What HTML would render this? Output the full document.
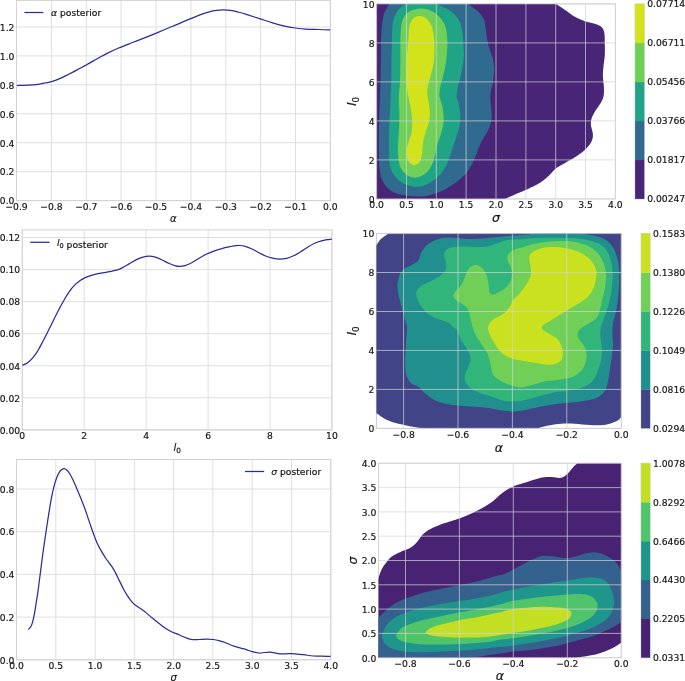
<!DOCTYPE html>
<html lang="en"><head><meta charset="utf-8"><title>Posterior plots</title>
<style>html,body{margin:0;padding:0;background:#fff}svg{display:block}text{font-family:"DejaVu Sans", "Liberation Sans", sans-serif;fill:#151515;stroke:#151515;stroke-width:0.18px}.t{font-size:9.2px}.i{font-style:italic}</style></head><body>
<svg width="685" height="681" viewBox="0 0 685 681">
<rect width="685" height="681" fill="#fff"/>
<g stroke="#dfdfdf" stroke-width="1.0" stroke-opacity="1.0" fill="none"><line x1="16.5" y1="0.4" x2="16.5" y2="200.6"/><line x1="51.4" y1="0.4" x2="51.4" y2="200.6"/><line x1="86.3" y1="0.4" x2="86.3" y2="200.6"/><line x1="121.1" y1="0.4" x2="121.1" y2="200.6"/><line x1="156" y1="0.4" x2="156" y2="200.6"/><line x1="190.9" y1="0.4" x2="190.9" y2="200.6"/><line x1="225.8" y1="0.4" x2="225.8" y2="200.6"/><line x1="260.6" y1="0.4" x2="260.6" y2="200.6"/><line x1="295.5" y1="0.4" x2="295.5" y2="200.6"/><line x1="330.4" y1="0.4" x2="330.4" y2="200.6"/><line x1="16.5" y1="200.6" x2="330.4" y2="200.6"/><line x1="16.5" y1="171.7" x2="330.4" y2="171.7"/><line x1="16.5" y1="142.7" x2="330.4" y2="142.7"/><line x1="16.5" y1="113.8" x2="330.4" y2="113.8"/><line x1="16.5" y1="84.8" x2="330.4" y2="84.8"/><line x1="16.5" y1="55.9" x2="330.4" y2="55.9"/><line x1="16.5" y1="27" x2="330.4" y2="27"/></g>
<rect x="16.5" y="0.4" width="313.9" height="200.2" fill="none" stroke="#d2d2d2" stroke-width="1"/>
<clipPath id="c1"><rect x="16.5" y="0.4" width="313.9" height="200.2"/></clipPath>
<path d="M16.5,85.5C18.3,85.4 23.9,85.3 27.5,85.1C31.1,84.9 35.1,84.6 38,84.3C40.9,84 42.8,83.5 45,83C47.2,82.5 49.1,82.3 51.5,81.6C53.9,80.9 56.4,79.9 59.1,78.8C61.8,77.7 64.9,76.2 67.8,74.8C70.7,73.3 73.5,71.8 76.6,70.1C79.7,68.4 83.1,66.7 86.6,64.8C90.1,62.9 94,60.5 97.6,58.5C101.2,56.5 104.6,54.6 108.1,52.9C111.6,51.1 114.9,49.6 118.6,48C122.2,46.4 126.8,44.7 130,43.5C133.2,42.3 133.1,42.3 137.5,40.6C141.9,38.9 150.5,35.5 156.3,33.1C162.2,30.7 167,28.7 172.6,26.3C178.2,23.9 185.4,20.8 190.1,18.9C194.8,16.9 197.4,15.8 200.6,14.6C203.8,13.4 206.7,12.5 209.3,11.8C211.9,11.1 214,10.7 216.4,10.4C218.8,10.1 221.2,9.9 223.6,9.9C225.9,9.9 228.2,10.1 230.5,10.4C232.8,10.7 234.9,11.2 237.5,11.9C240.1,12.6 242.5,13.2 246.3,14.4C250.1,15.6 255.9,17.5 260.3,18.9C264.7,20.3 268.5,21.6 272.6,22.8C276.7,24 281,25.2 284.8,26.1C288.6,27 291.8,27.5 295.3,28C298.8,28.5 302,28.9 305.8,29.1C309.6,29.4 314,29.4 318.1,29.5C322.2,29.6 328.3,29.9 330.4,30" fill="none" stroke="#2b2ba0" stroke-width="1.25" stroke-linejoin="round" clip-path="url(#c1)"/>
<text class="t" x="16.5" y="210.1" text-anchor="middle">−0.9</text><text class="t" x="51.4" y="210.1" text-anchor="middle">−0.8</text><text class="t" x="86.3" y="210.1" text-anchor="middle">−0.7</text><text class="t" x="121.1" y="210.1" text-anchor="middle">−0.6</text><text class="t" x="156" y="210.1" text-anchor="middle">−0.5</text><text class="t" x="190.9" y="210.1" text-anchor="middle">−0.4</text><text class="t" x="225.8" y="210.1" text-anchor="middle">−0.3</text><text class="t" x="260.6" y="210.1" text-anchor="middle">−0.2</text><text class="t" x="295.5" y="210.1" text-anchor="middle">−0.1</text><text class="t" x="330.4" y="210.1" text-anchor="middle">0.0</text><text class="t" x="14.4" y="204.3" text-anchor="end">0.0</text><text class="t" x="14.4" y="175.4" text-anchor="end">0.2</text><text class="t" x="14.4" y="146.5" text-anchor="end">0.4</text><text class="t" x="14.4" y="117.5" text-anchor="end">0.6</text><text class="t" x="14.4" y="88.6" text-anchor="end">0.8</text><text class="t" x="14.4" y="59.7" text-anchor="end">1.0</text><text class="t" x="14.4" y="30.7" text-anchor="end">1.2</text>
<line x1="24.4" y1="12.5" x2="43.4" y2="12.5" stroke="#2b2ba0" stroke-width="1.25"/>
<text x="51" y="15.8" style="font-size:9.2px"><tspan class="i">α</tspan> posterior</text>
<text x="173.4" y="221.5" text-anchor="middle" style="font-size:10.05px"><tspan class="i">α</tspan></text>
<g stroke="#dfdfdf" stroke-width="1.0" stroke-opacity="1.0" fill="none"><line x1="22.3" y1="229.9" x2="22.3" y2="429.9"/><line x1="84.2" y1="229.9" x2="84.2" y2="429.9"/><line x1="146.1" y1="229.9" x2="146.1" y2="429.9"/><line x1="208.1" y1="229.9" x2="208.1" y2="429.9"/><line x1="270" y1="229.9" x2="270" y2="429.9"/><line x1="331.9" y1="229.9" x2="331.9" y2="429.9"/><line x1="22.3" y1="429.9" x2="331.9" y2="429.9"/><line x1="22.3" y1="397.8" x2="331.9" y2="397.8"/><line x1="22.3" y1="365.8" x2="331.9" y2="365.8"/><line x1="22.3" y1="333.7" x2="331.9" y2="333.7"/><line x1="22.3" y1="301.6" x2="331.9" y2="301.6"/><line x1="22.3" y1="269.6" x2="331.9" y2="269.6"/><line x1="22.3" y1="237.5" x2="331.9" y2="237.5"/></g>
<rect x="22.3" y="229.9" width="309.6" height="200" fill="none" stroke="#d2d2d2" stroke-width="1"/>
<clipPath id="c2"><rect x="22.3" y="229.9" width="309.6" height="200"/></clipPath>
<path d="M22.3,365.4C23.1,365 25.6,364.3 27.3,363.1C29,361.9 30.8,360.2 32.5,358.2C34.2,356.1 36,353.6 37.8,350.8C39.5,348 41.2,344.6 43,341.2C44.8,337.8 46.5,334.2 48.3,330.7C50,327.2 51.8,323.7 53.5,320.2C55.2,316.7 57,313.1 58.8,309.7C60.6,306.3 62.3,303 64.1,300C65.8,297 67.5,294.1 69.3,291.6C71,289.1 72.8,286.9 74.6,285.1C76.3,283.3 78,282.1 79.8,280.8C81.5,279.6 83,278.5 85.1,277.6C87.1,276.7 89.5,275.9 92.1,275.2C94.7,274.5 97.9,273.8 100.8,273.2C103.7,272.6 107,272.2 109.6,271.7C112.2,271.2 114.4,270.8 116.5,270.2C118.6,269.6 119.9,268.9 122,267.9C124.1,266.8 126.7,265.2 129,263.9C131.3,262.6 133.7,261 136,259.9C138.3,258.8 140.8,257.7 143,257.1C145.2,256.5 147.1,256.2 149.2,256.2C151.2,256.2 153.1,256.5 155.3,257.1C157.5,257.7 160,258.9 162.3,260C164.6,261.1 167.1,262.5 169.3,263.5C171.5,264.5 173.7,265.3 175.4,265.8C177.2,266.3 178.2,266.3 179.8,266.3C181.4,266.3 183.1,266.2 185.1,265.6C187.1,265 189.8,263.7 192.1,262.5C194.4,261.3 196.8,259.7 199.1,258.3C201.4,256.9 203.8,255.5 206.1,254.3C208.4,253.1 210.5,252.2 213.1,251.3C215.7,250.4 219.3,249.3 221.9,248.6C224.5,247.8 226.9,247.3 228.9,246.8C230.9,246.3 232.3,246 234,245.8C235.7,245.6 237.4,245.4 239.3,245.5C241.2,245.6 243.4,245.8 245.4,246.4C247.4,247 249.3,247.8 251.5,248.8C253.7,249.8 256.1,251.3 258.5,252.5C260.9,253.7 263.2,255.1 265.6,256C268,256.9 270.3,257.6 272.6,258.1C274.9,258.6 277.3,259 279.6,259C281.9,259 284.3,258.8 286.6,258.3C288.9,257.8 291.3,256.9 293.6,255.8C295.9,254.7 298.3,253.2 300.6,251.8C302.9,250.4 305.3,248.6 307.6,247.2C309.9,245.8 312.3,244.3 314.6,243.2C316.9,242.1 319.6,241.4 321.6,240.8C323.7,240.2 325.2,240 326.9,239.7C328.6,239.4 331.1,239.3 331.9,239.2" fill="none" stroke="#2b2ba0" stroke-width="1.25" stroke-linejoin="round" clip-path="url(#c2)"/>
<text class="t" x="22.3" y="439.4" text-anchor="middle">0</text><text class="t" x="84.2" y="439.4" text-anchor="middle">2</text><text class="t" x="146.1" y="439.4" text-anchor="middle">4</text><text class="t" x="208.1" y="439.4" text-anchor="middle">6</text><text class="t" x="270" y="439.4" text-anchor="middle">8</text><text class="t" x="331.9" y="439.4" text-anchor="middle">10</text><text class="t" x="20.2" y="433.6" text-anchor="end">0.00</text><text class="t" x="20.2" y="401.6" text-anchor="end">0.02</text><text class="t" x="20.2" y="369.5" text-anchor="end">0.04</text><text class="t" x="20.2" y="337.4" text-anchor="end">0.06</text><text class="t" x="20.2" y="305.4" text-anchor="end">0.08</text><text class="t" x="20.2" y="273.3" text-anchor="end">0.10</text><text class="t" x="20.2" y="241.2" text-anchor="end">0.12</text>
<line x1="30.2" y1="242.3" x2="49.6" y2="242.3" stroke="#2b2ba0" stroke-width="1.25"/>
<text x="56.9" y="245.6" style="font-size:9.2px"><tspan class="i">l</tspan><tspan dy="2.2" style="font-size:72%">0</tspan><tspan dy="-2.2"></tspan> posterior</text>
<text x="177.1" y="451.2" text-anchor="middle" style="font-size:10.05px"><tspan class="i">l</tspan><tspan dy="2.2" style="font-size:72%">0</tspan><tspan dy="-2.2"></tspan></text>
<g stroke="#dfdfdf" stroke-width="1.0" stroke-opacity="1.0" fill="none"><line x1="16.5" y1="459.5" x2="16.5" y2="659.8"/><line x1="55.8" y1="459.5" x2="55.8" y2="659.8"/><line x1="95.1" y1="459.5" x2="95.1" y2="659.8"/><line x1="134.4" y1="459.5" x2="134.4" y2="659.8"/><line x1="173.7" y1="459.5" x2="173.7" y2="659.8"/><line x1="212.9" y1="459.5" x2="212.9" y2="659.8"/><line x1="252.2" y1="459.5" x2="252.2" y2="659.8"/><line x1="291.5" y1="459.5" x2="291.5" y2="659.8"/><line x1="330.8" y1="459.5" x2="330.8" y2="659.8"/><line x1="16.5" y1="659.8" x2="330.8" y2="659.8"/><line x1="16.5" y1="617.1" x2="330.8" y2="617.1"/><line x1="16.5" y1="574.4" x2="330.8" y2="574.4"/><line x1="16.5" y1="531.7" x2="330.8" y2="531.7"/><line x1="16.5" y1="489" x2="330.8" y2="489"/></g>
<rect x="16.5" y="459.5" width="314.3" height="200.3" fill="none" stroke="#d2d2d2" stroke-width="1"/>
<clipPath id="c3"><rect x="16.5" y="459.5" width="314.3" height="200.3"/></clipPath>
<path d="M28.3,629.5C28.7,629 30.1,628 30.8,626.8C31.5,625.6 31.9,624.4 32.5,622.4C33.1,620.4 33.7,617.6 34.3,614.6C34.9,611.6 35.4,607.8 36,604.1C36.6,600.5 37.2,596.8 37.8,592.7C38.4,588.6 38.9,584 39.5,579.5C40.1,575 40.6,571.3 41.3,565.7C42,560.1 43,552.3 43.9,546.1C44.8,539.9 45.6,534.4 46.5,528.6C47.4,522.8 48.3,516.5 49.2,511.1C50.1,505.7 50.9,500.6 51.8,496.2C52.7,491.8 53.5,488 54.4,484.8C55.3,481.6 56.1,479.1 57,476.9C57.9,474.7 58.9,472.9 59.7,471.6C60.5,470.4 61.3,469.9 62,469.4C62.7,468.9 63.3,468.6 64.1,468.7C64.9,468.8 65.8,469.2 66.7,469.9C67.6,470.6 68.3,471.4 69.3,473C70.3,474.6 71.6,477.1 72.8,479.5C74,481.9 75,484.3 76.3,487.4C77.6,490.5 79.2,494.2 80.7,497.9C82.2,501.5 83.6,505.2 85.1,509.3C86.6,513.4 88,518.2 89.5,522.4C91,526.6 92.5,531.2 93.8,534.7C95.1,538.2 96.1,540.9 97.3,543.5C98.5,546.1 99.4,547.7 100.8,550.1C102.2,552.5 104,555.6 105.6,558C107.2,560.4 109,562.3 110.5,564.6C112,566.9 113.5,569 114.9,571.6C116.4,574.2 117.8,577.5 119.2,580.4C120.7,583.3 122.1,586.5 123.6,589.2C125.1,591.9 126.7,594.7 128,596.7C129.3,598.7 130.4,600.1 131.5,601.4C132.6,602.7 132.7,603.1 134.8,604.7C136.9,606.3 141.4,609 144.3,611.2C147.2,613.4 149.4,615.7 152.3,618.1C155.2,620.5 159,623.6 161.9,625.7C164.8,627.9 167.1,629.5 170,631C172.9,632.5 176.8,633.8 179.6,635C182.4,636.2 184.7,637.4 186.8,638.2C188.9,639 190.4,639.4 192.4,639.6C194.4,639.8 196.5,639.6 198.9,639.5C201.3,639.4 204.5,639.1 206.9,639.1C209.3,639.1 211.2,639.2 213.3,639.5C215.4,639.8 217.5,640.3 219.7,640.9C221.8,641.5 223.8,642.1 226.2,643C228.6,643.9 231,645.2 234,646.2C237,647.2 241.2,648 244.3,648.9C247.4,649.8 249.9,651 252.3,651.7C254.7,652.4 256.6,652.9 258.7,653C260.8,653.1 263,652.6 265.1,652.5C267.2,652.4 269.2,652.1 271.6,652.3C274,652.5 277.2,653.5 279.6,653.8C282,654 284,653.8 286,653.8C288,653.8 289.7,653.5 291.6,653.6C293.5,653.7 295.3,654 297.3,654.2C299.3,654.4 301,654.4 303.7,654.7C306.4,655 310.4,655.8 313.3,656C316.2,656.2 318.5,656.2 321.4,656.2C324.3,656.2 329.2,656.3 330.8,656.3" fill="none" stroke="#2b2ba0" stroke-width="1.25" stroke-linejoin="round" clip-path="url(#c3)"/>
<text class="t" x="16.5" y="669.3" text-anchor="middle">0.0</text><text class="t" x="55.8" y="669.3" text-anchor="middle">0.5</text><text class="t" x="95.1" y="669.3" text-anchor="middle">1.0</text><text class="t" x="134.4" y="669.3" text-anchor="middle">1.5</text><text class="t" x="173.7" y="669.3" text-anchor="middle">2.0</text><text class="t" x="212.9" y="669.3" text-anchor="middle">2.5</text><text class="t" x="252.2" y="669.3" text-anchor="middle">3.0</text><text class="t" x="291.5" y="669.3" text-anchor="middle">3.5</text><text class="t" x="330.8" y="669.3" text-anchor="middle">4.0</text><text class="t" x="14.4" y="663.5" text-anchor="end">0.0</text><text class="t" x="14.4" y="620.8" text-anchor="end">0.2</text><text class="t" x="14.4" y="578.1" text-anchor="end">0.4</text><text class="t" x="14.4" y="535.4" text-anchor="end">0.6</text><text class="t" x="14.4" y="492.7" text-anchor="end">0.8</text>
<line x1="245" y1="471.5" x2="264.2" y2="471.5" stroke="#2b2ba0" stroke-width="1.25"/>
<text x="271.2" y="474.8" style="font-size:9.2px"><tspan class="i">σ</tspan> posterior</text>
<text x="173.7" y="680.8" text-anchor="middle" style="font-size:10.05px"><tspan class="i">σ</tspan></text>
<clipPath id="c4"><rect x="376.6" y="3.9" width="238.8" height="195"/></clipPath>
<rect x="376.6" y="3.9" width="238.8" height="195" fill="none" stroke="#d2d2d2" stroke-width="1"/>
<g clip-path="url(#c4)">
<path d="M548,-3C549.4,-1.8 553.4,2 556.4,4.2C559.4,6.4 562.7,8.2 565.9,10.4C569.1,12.6 572.2,15.3 575.4,17.1C578.6,18.9 581.4,20.1 584.9,21.3C588.4,22.5 593.4,23.3 596.3,24.3C599.1,25.3 600.6,26 602,27.5C603.4,29 603.9,30.5 604.4,33.2C604.9,35.9 604.7,40.1 604.8,43.7C604.9,47.3 605,51.2 604.8,55C604.6,58.8 603.8,62.9 603.5,66.4C603.2,69.9 602.8,72.4 602.9,75.9C603,79.4 603.8,84 603.9,87.3C604,90.6 604.1,93.5 603.6,96C603.1,98.5 602.4,100.1 601,102.6C599.6,105.1 596.9,108.4 595.3,111.1C593.7,113.8 592.2,116.3 591.5,118.7C590.8,121.1 590.8,122.9 591,125.4C591.2,127.9 592.8,131.2 592.9,133.9C593,136.6 592.7,139 591.5,141.5C590.3,144 588.2,146.7 585.8,149.1C583.4,151.5 580.6,153.5 577.3,155.7C574,157.9 569.4,160.3 565.9,162.4C562.4,164.5 559.2,165.9 556.4,168.1C553.5,170.3 551.6,173.2 548.8,175.7C545.9,178.2 542.8,181.1 539.3,183.3C535.8,185.5 531.8,187.2 528,188.9C524.2,190.6 520.2,192.1 516.6,193.7C513,195.3 509.9,196.7 506.1,198.4C502.3,200.1 496,203.1 494,204L370,205L370,-8L548,-8Z" fill="#482576"/>
<path d="M392,-3C391.5,-1.8 390.3,1.5 389,4.2C387.7,6.9 385.4,9.6 384.2,13.3C383,17 382.3,21.5 381.8,26.6C381.3,31.7 381.2,37.7 381,43.7C380.8,49.7 380.9,56.3 380.8,62.6C380.7,68.9 380.5,75.4 380.4,81.6C380.2,87.8 380.1,93 379.9,100C379.7,107 379.3,114.8 379.1,123.5C378.9,132.2 378.8,144 378.9,151.9C379,159.8 379.2,165.8 379.9,170.9C380.6,176 381.5,179 383.3,182.3C385.1,185.6 387.7,188.7 390.9,190.8C394.1,192.9 397.9,194 402.3,194.9C406.7,195.8 413.3,196.4 417.4,196.5C421.5,196.6 423.1,196.5 426.9,195.7C430.7,194.9 435.8,193.7 440.2,191.8C444.6,189.9 449.4,187 453.5,184.2C457.6,181.3 461.7,178.2 464.9,174.7C468.1,171.2 470.4,167.1 472.5,163.3C474.6,159.5 475.6,155.7 477.2,151.9C478.8,148.1 480.2,144 482,140.5C483.8,137 486.1,134.6 487.7,131.1C489.3,127.6 490.9,123.8 491.5,119.7C492.1,115.6 491.3,110 491.1,106.4C490.9,102.8 490.4,100.4 490.3,98C490.2,95.6 490.4,94.7 490.8,92C491.2,89.3 492.4,85.5 493,81.6C493.6,77.6 494.4,72.4 494.3,68.3C494.2,64.2 493.4,61 492.4,56.9C491.3,52.8 489.1,48.4 488,43.7C486.9,39 486.5,32.6 485.8,28.5C485.1,24.4 485.2,21.9 483.9,19C482.6,16.1 480.7,13.9 478.2,11.4C475.7,8.9 471.4,6.6 468.7,4.2C466,1.8 463.1,-1.8 462,-3L462,-8L392,-8Z" fill="#306a8e"/>
<path d="M409,-3C408.4,-1.8 406.9,2.1 405.1,4.2C403.4,6.3 400.4,7 398.5,9.5C396.6,12 394.8,15.5 393.7,19C392.6,22.5 392.5,26.3 392.2,30.4C391.9,34.5 391.9,38.3 391.8,43.7C391.7,49.1 391.5,56.3 391.4,62.6C391.3,68.9 391.4,75.4 391.3,81.6C391.2,87.8 390.7,94.6 390.5,100C390.3,105.4 390.1,108.5 389.9,114C389.6,119.5 389.1,126.7 389,133C388.9,139.3 388.9,146.5 389,151.9C389.1,157.3 389.1,161.4 389.9,165.2C390.7,169 391.8,171.8 393.7,174.7C395.6,177.5 398,180.3 401.3,182.3C404.6,184.3 409.8,186.2 413.7,186.7C417.6,187.2 421.5,186.4 425,185.2C428.5,184 431.5,181.9 434.5,179.5C437.5,177.1 440.7,174.2 443.1,170.9C445.5,167.6 447.2,163.3 448.8,159.5C450.4,155.7 451.3,151.9 452.6,148.1C453.9,144.3 455.2,140.6 456.4,136.8C457.6,133 459,129.2 459.6,125.4C460.2,121.6 460.4,117.8 460.2,114C460,110.2 458.9,105.8 458.3,102.6C457.7,99.4 456.5,98.5 456.6,95C456.8,91.5 458.3,85.7 459.2,81.6C460.1,77.5 461.2,74.3 462,70.2C462.8,66.1 463.7,61.3 463.9,56.9C464.1,52.5 463.7,48.1 463.4,43.7C463.1,39.3 462.9,34.5 462,30.4C461.1,26.3 460.4,22.3 458.3,19C456.2,15.7 453.2,12.9 449.7,10.4C446.2,7.9 440.7,6.4 437.4,4.2C434.1,2 431.2,-1.8 430,-3L430,-8L409,-8Z" fill="#20a486"/>
<path d="M420.3,8.5C416.2,8.7 411,10.2 408,12.3C405,14.4 403.5,17.6 402.3,20.9C401.1,24.2 401,28.5 400.7,32.3C400.4,36.1 400.4,38.7 400.4,43.7C400.3,48.8 400.5,56.3 400.4,62.6C400.3,68.9 400.3,75.4 400,81.6C399.7,87.8 398.9,94.6 398.8,100C398.7,105.4 399.4,108.5 399.4,114C399.4,119.5 399.1,127.3 398.8,133C398.6,138.7 397.9,143.7 397.9,148.1C397.8,152.5 397.9,156 398.5,159.5C399.1,163 399.7,166.3 401.3,169C402.9,171.7 405.5,174.3 408,175.7C410.5,177.1 413.7,177.9 416.5,177.6C419.3,177.3 422.6,175.6 425,173.8C427.4,172.1 429.1,169.8 430.7,167.1C432.3,164.4 433.4,161.4 434.5,157.6C435.6,153.8 436.3,148.4 437.4,144.3C438.5,140.2 440.2,136.8 441.2,133C442.2,129.2 443.3,125.4 443.6,121.6C443.9,117.8 443.7,114 443.1,110.2C442.5,106.4 440.8,101.3 440.2,98.8C439.6,96.2 439.2,97.1 439.3,94.9C439.4,92.7 440,88.6 440.6,85.4C441.2,82.2 442.2,79.7 443.1,75.9C444,72.1 445.2,68 445.9,62.6C446.6,57.2 447.4,49.4 447.4,43.7C447.4,38 446.9,32.6 445.9,28.5C444.9,24.4 443.4,21.9 441.2,19C439,16.1 436.1,13.2 432.6,11.4C429.1,9.7 424.4,8.3 420.3,8.5Z" fill="#70cf57"/>
<path d="M419.7,16.1C417.3,16.1 414.4,17.2 412.7,19C411,20.8 410,23.4 409.3,26.6C408.6,29.8 408.8,34.2 408.5,38C408.2,41.8 408,45.2 407.6,49.3C407.2,53.4 406.6,57.2 406.4,62.6C406.2,68 406.1,76.2 406.4,81.6C406.7,87 407.3,90.5 408,94.9C408.7,99.4 410.1,103.8 410.8,108.3C411.5,112.8 412,117.5 412.1,121.6C412.2,125.7 412.1,129.2 411.4,133C410.7,136.8 408.8,140.8 408,144.3C407.2,147.8 406.2,151 406.4,153.8C406.5,156.7 407.6,159.5 408.9,161.4C410.2,163.3 412.2,165.1 414,165.2C415.8,165.3 418.3,163.7 419.7,161.8C421.1,159.9 421.6,157 422.2,153.8C422.8,150.6 422.5,146.2 423.1,142.4C423.7,138.6 425,134.6 426,131.1C427,127.6 428.6,124.8 429.2,121.6C429.8,118.4 429.9,115.3 429.8,112.1C429.7,108.9 429.2,105.4 428.8,102.6C428.4,99.8 427.5,97.9 427.4,95C427.2,92.1 427.3,88.6 427.9,85.4C428.4,82.2 429.8,79.7 430.7,75.9C431.6,72.1 433,67 433.6,62.6C434.2,58.2 434.4,53.4 434.5,49.3C434.6,45.2 434.5,41.8 434,38C433.5,34.2 432.9,29.8 431.7,26.6C430.5,23.4 428.9,20.8 426.9,19C424.9,17.2 422.1,16.1 419.7,16.1Z" fill="#d2e21b"/>
</g>
<g stroke="#d4d4d4" stroke-width="1.0" stroke-opacity="0.7" fill="none"><line x1="376.6" y1="3.9" x2="376.6" y2="198.9"/><line x1="406.5" y1="3.9" x2="406.5" y2="198.9"/><line x1="436.3" y1="3.9" x2="436.3" y2="198.9"/><line x1="466.1" y1="3.9" x2="466.1" y2="198.9"/><line x1="496" y1="3.9" x2="496" y2="198.9"/><line x1="525.9" y1="3.9" x2="525.9" y2="198.9"/><line x1="555.7" y1="3.9" x2="555.7" y2="198.9"/><line x1="585.5" y1="3.9" x2="585.5" y2="198.9"/><line x1="615.4" y1="3.9" x2="615.4" y2="198.9"/><line x1="376.6" y1="198.9" x2="615.4" y2="198.9"/><line x1="376.6" y1="159.9" x2="615.4" y2="159.9"/><line x1="376.6" y1="120.9" x2="615.4" y2="120.9"/><line x1="376.6" y1="81.9" x2="615.4" y2="81.9"/><line x1="376.6" y1="42.9" x2="615.4" y2="42.9"/><line x1="376.6" y1="3.9" x2="615.4" y2="3.9"/></g>
<text class="t" x="376.6" y="208.4" text-anchor="middle">0.0</text><text class="t" x="406.5" y="208.4" text-anchor="middle">0.5</text><text class="t" x="436.3" y="208.4" text-anchor="middle">1.0</text><text class="t" x="466.1" y="208.4" text-anchor="middle">1.5</text><text class="t" x="496" y="208.4" text-anchor="middle">2.0</text><text class="t" x="525.9" y="208.4" text-anchor="middle">2.5</text><text class="t" x="555.7" y="208.4" text-anchor="middle">3.0</text><text class="t" x="585.5" y="208.4" text-anchor="middle">3.5</text><text class="t" x="615.4" y="208.4" text-anchor="middle">4.0</text><text class="t" x="374.5" y="202.7" text-anchor="end">0</text><text class="t" x="374.5" y="163.7" text-anchor="end">2</text><text class="t" x="374.5" y="124.7" text-anchor="end">4</text><text class="t" x="374.5" y="85.7" text-anchor="end">6</text><text class="t" x="374.5" y="46.7" text-anchor="end">8</text><text class="t" x="374.5" y="7.7" text-anchor="end">10</text>
<rect x="635.1" y="3.9" width="9.2" height="195" fill="none" stroke="#d2d2d2" stroke-width="1"/>
<rect x="635.1" y="159.9" width="9.2" height="39" fill="#482576"/>
<rect x="635.1" y="120.9" width="9.2" height="39.3" fill="#306a8e"/>
<rect x="635.1" y="81.9" width="9.2" height="39.3" fill="#20a486"/>
<rect x="635.1" y="42.9" width="9.2" height="39.3" fill="#70cf57"/>
<rect x="635.1" y="3.9" width="9.2" height="39.3" fill="#d2e21b"/>
<text class="t" x="647.2" y="202.3">0.00247</text>
<text class="t" x="647.2" y="163.3">0.01817</text>
<text class="t" x="647.2" y="124.3">0.03766</text>
<text class="t" x="647.2" y="85.3">0.05456</text>
<text class="t" x="647.2" y="46.3">0.06711</text>
<text class="t" x="647.2" y="7.3">0.07714</text>
<text x="496" y="222" text-anchor="middle" style="font-size:12.55px"><tspan class="i">σ</tspan></text>
<text x="356.5" y="101.4" text-anchor="middle" transform="rotate(-90 356.5 101.4)" style="font-size:12.55px"><tspan class="i">l</tspan><tspan dy="2.6" style="font-size:70%">0</tspan></text>
<clipPath id="c5"><rect x="376.4" y="233.6" width="244.8" height="194.7"/></clipPath>
<rect x="376.4" y="233.6" width="244.8" height="194.7" fill="none" stroke="#d2d2d2" stroke-width="1"/>
<g clip-path="url(#c5)">
<path d="M374.4,231.6H623.2V430.3H374.4Z" fill="#414487"/>
<path d="M374,250C374.4,249.2 375.5,246.9 376.6,245.1C377.7,243.3 378.5,241.3 380.4,239.4C382.3,237.5 386.1,235.1 388,233.7C389.9,232.3 391.3,231.4 392,231L370,228Z" fill="#fff"/>
<path d="M372,410C372.8,410.6 374.7,412 376.6,413.3C378.5,414.6 380.6,416.5 383.3,418C386,419.5 389.3,421.1 392.8,422.2C396.3,423.3 400.4,424.1 404.2,424.9C408,425.7 411.7,426.5 415.5,427.2C419.3,427.9 423.6,428.2 427,428.8C430.4,429.4 434.5,430.2 436,430.5L436,434L370,434Z" fill="#fff"/>
<path d="M532,431C533.1,430.5 535.7,429.1 538.7,428.1C541.7,427.1 546.2,425.9 550,425.2C553.8,424.5 557.3,423.9 561.4,423.7C565.5,423.4 570,423.5 574.7,423.7C579.5,423.9 585.1,424.8 589.9,425C594.6,425.2 599.4,425.4 603.2,425C607,424.6 610.2,423.6 612.7,422.7C615.2,421.8 617,420.8 618.4,419.9C619.8,419 619.9,418.5 620.8,417.4C621.7,416.2 623.5,413.7 624,413L627,417L627,434L538,434Z" fill="#fff"/>
<path d="M545,231C542.5,231.5 535.3,233.5 530,234.2C524.7,234.9 518.5,234.9 513,235.4C507.5,235.9 501.9,236.5 497,237C492.1,237.5 488.3,238 483.9,238.3C479.5,238.6 475,239.1 470.6,239C466.2,238.9 461.4,238.2 457.3,237.9C453.2,237.7 449.4,237.2 445.9,237.5C442.4,237.8 439.6,238.5 436.4,239.8C433.2,241.1 429.4,242.9 426.9,245.1C424.4,247.2 422.6,250.2 421.2,252.7C419.8,255.2 420,258.2 418.4,260.3C416.8,262.4 414.2,263.6 411.8,265C409.4,266.4 406.3,267.1 404.2,268.8C402.1,270.5 400.5,272.7 399.4,275.4C398.3,278.1 397.6,281.7 397.5,284.9C397.4,288.1 397.9,290.9 398.5,294.4C399.1,297.9 400.4,302 401.3,305.8C402.2,309.6 403.2,313.7 404.2,317.2C405.1,320.7 406.6,323.8 407,327C407.4,330.2 406.6,332.6 406.4,336.4C406.2,340.2 405.9,345.3 405.7,349.7C405.5,354.1 405,358.9 405.1,363C405.2,367.1 405.2,371 406.1,374.3C407.1,377.6 408.8,380.8 410.8,382.9C412.9,385 416,385 418.4,386.7C420.8,388.4 422.3,391.1 425,393.3C427.7,395.5 431,398.2 434.5,400C438,401.8 441.8,402.9 445.9,403.8C450,404.8 454.8,405.2 459.2,405.7C463.6,406.2 468.4,406.3 472.5,406.6C476.6,406.9 480.4,407.2 483.9,407.6C487.4,408 490,408.4 493.4,408.9C496.8,409.4 501.1,410.4 504.5,410.8C507.9,411.2 510.5,411.5 514,411.4C517.5,411.3 521.6,410.6 525.4,410C529.2,409.4 532.7,408.4 536.8,407.6C540.9,406.8 545.6,405.8 550,405.1C554.4,404.4 558.9,403.7 563.3,403.2C567.7,402.7 572.2,402.4 576.6,401.9C581,401.4 586.1,400.9 589.9,400C593.7,399.1 596.9,397.8 599.4,396.2C601.9,394.6 603.7,392.9 605.1,390.5C606.5,388.1 607.1,385.2 607.9,381.9C608.7,378.6 609.2,374.6 609.8,370.5C610.4,366.4 611.2,361.7 611.7,357.3C612.2,352.9 613,348.1 613.1,344C613.2,339.9 612.3,336.7 612.3,333C612.3,329.3 612.7,325.6 613.3,322C613.9,318.4 615.2,315.5 616,311.5C616.8,307.5 617.5,302.6 618,298.2C618.5,293.8 618.8,289.3 619,284.9C619.2,280.5 619.6,276.1 619.3,271.7C619,267.3 618.5,262.5 617.4,258.4C616.3,254.3 614.8,250.2 612.7,247C610.7,243.8 608.3,241.3 605.1,239.4C601.9,237.5 598.1,236.6 593.7,235.6C589.3,234.6 582.5,234 578.5,233.2C574.5,232.4 571.4,231.4 570,231L578,228L514,228Z" fill="#218f8d"/>
<path d="M523.5,238.9C517.5,239.3 510.8,239.5 506.4,240.3C502,241.1 500.1,242.5 497,243.5C493.9,244.5 491.1,245.8 487.7,246.4C484.2,247 480.1,247 476.3,247C472.5,247 468.7,246.4 464.9,246.4C461.1,246.4 456.5,246.5 453.5,247C450.5,247.5 448.5,248 446.9,249.3C445.3,250.6 444.2,252.4 444,254.6C443.8,256.8 445.6,259.8 445.9,262.2C446.2,264.6 446.5,266.8 445.9,268.8C445.3,270.9 444.3,272.6 442.1,274.5C439.9,276.4 436.1,278.3 432.6,280.2C429.1,282.1 423.9,284 421.2,285.9C418.5,287.8 417.1,289.4 416.5,291.6C415.9,293.8 416.4,296.5 417.4,299.2C418.3,301.9 420.3,305.2 422.2,307.7C424.1,310.2 426.1,312.5 428.8,314.4C431.5,316.3 435.1,317.8 438.3,319.1C441.5,320.4 445.4,321.1 447.8,322.3C450.2,323.5 450.9,325.1 452.5,326.5C454.1,327.9 455.9,328.4 457.3,330.7C458.7,333 459.5,337.2 461.1,340.2C462.7,343.2 465.2,345.8 466.8,348.7C468.4,351.6 470.3,354.4 470.6,357.3C470.9,360.2 469.6,363.1 468.7,365.8C467.8,368.5 466.1,371 465.5,373.4C464.9,375.8 464.4,377.8 464.9,380C465.4,382.2 466.8,384.8 468.7,386.7C470.6,388.6 473.4,390 476.3,391.4C479.2,392.8 482.9,393.8 485.8,394.8C488.8,395.8 490.9,396.5 494,397.5C497.1,398.5 500.9,400.3 504.5,400.9C508.1,401.5 512.1,401.6 515.9,401.3C519.7,401.1 523.5,400.2 527.3,399.4C531.1,398.5 534.6,397.3 538.7,396.2C542.8,395.1 547.5,393.8 551.9,392.9C556.3,392 561.1,391.6 565.2,391C569.3,390.4 573.1,390 576.6,389.1C580.1,388.2 583.2,387.2 586.1,385.7C589,384.2 591.7,382.6 593.7,380C595.7,377.4 596.7,373.5 598,370C599.3,366.5 600.9,362.8 601.5,359C602.1,355.2 602,350.8 601.8,347C601.6,343.2 600.4,339.3 600.3,336C600.2,332.7 600.3,330.2 601,327C601.7,323.8 603.3,320.4 604.6,316.5C605.9,312.6 607.8,307.9 608.9,303.9C610,299.9 610.6,296.9 611.2,292.5C611.8,288.1 612.6,282 612.7,277.3C612.8,272.6 612.5,268.2 611.7,264.1C610.9,260 609.6,255.9 607.9,252.7C606.2,249.5 604.3,247.1 601.3,245.1C598.3,243.1 594,241.7 589.9,240.6C585.8,239.5 581.4,238.8 576.6,238.3C571.9,237.8 567.1,237.8 561.4,237.7C555.7,237.6 548.7,237.6 542.4,237.8C536.1,238 529.5,238.5 523.5,238.9Z" fill="#31b57b"/>
<path d="M563.3,240.9C558.5,240.8 553.1,241.2 548.1,241.7C543.1,242.2 537.1,243.2 533,244.1C528.9,245 526.7,246.1 523.5,247C520.3,247.9 516.5,248.5 514,249.8C511.5,251.1 509.4,253 508.3,254.6C507.2,256.2 507,257.4 507.3,259.3C507.6,261.2 509.4,263.6 510.2,266C511,268.4 512.1,270.8 512.1,273.5C512.1,276.2 511.5,279.6 510.2,282.1C508.9,284.6 506.5,287 504.5,288.7C502.5,290.4 499.9,291.5 498,292.5C496.1,293.5 494.8,294.8 493.4,294.8C492,294.8 490.4,294.1 489.6,292.5C488.8,290.9 489.1,287.8 488.6,284.9C488.1,282 487.8,278.2 486.7,275.4C485.6,272.6 483.9,269.6 482,267.9C480.1,266.2 477.5,264.9 475.3,265C473.1,265.1 470.4,266.8 468.7,268.8C467,270.9 466.2,274.6 464.9,277.3C463.6,280 462.7,282.5 461.1,284.9C459.5,287.3 456.7,289.7 455.4,291.6C454.1,293.5 453.2,294.7 453.5,296.3C453.8,297.9 455.4,299.5 457.3,301.1C459.2,302.7 463,304.2 464.9,305.8C466.8,307.4 467.8,309.2 468.7,311C469.6,312.8 469.4,314.1 470,316.5C470.6,318.9 471.3,322.6 472.3,325.7C473.3,328.8 474.2,331.9 475.8,335C477.4,338.1 479.9,341.7 481.7,344.4C483.5,347.1 485.1,349.1 486.4,351.4C487.7,353.7 488.6,356.1 489.3,358.4C490,360.7 490.4,363.2 490.8,365.4C491.2,367.6 491.2,369.7 491.8,371.5C492.4,373.3 493.2,374.9 494.3,376.2C495.4,377.5 497.1,378.6 498.5,379.5C499.9,380.4 500.3,380.9 502.6,381.9C504.9,382.9 508.9,384.8 512.1,385.7C515.3,386.6 518.1,387.4 521.6,387.3C525.1,387.2 529.2,385.8 533,384.8C536.8,383.9 540.2,382.4 544.3,381.6C548.4,380.8 553.5,380.6 557.6,380C561.7,379.4 565.8,379 569,378.1C572.2,377.2 574.4,376.1 576.6,374.7C578.8,373.3 580.8,371.7 582.3,369.6C583.8,367.5 585,364.7 585.7,362C586.4,359.3 586.8,356.2 586.5,353.5C586.2,350.8 585.2,348 584.2,345.9C583.2,343.8 581.5,342.8 580.4,341C579.3,339.2 577.7,337.2 577.6,335.2C577.5,333.2 578.4,330.8 580,329C581.6,327.2 584.4,326.2 587,324.6C589.6,323 593.5,321.3 595.6,319.1C597.7,316.9 598.3,314.7 599.4,311.5C600.5,308.3 601.2,304.2 602.2,300.1C603.2,296 604.5,291.2 605.1,286.8C605.7,282.4 606.3,277.6 606,273.5C605.7,269.4 604.6,265.7 603.2,262.2C601.8,258.7 600,255.4 597.5,252.7C595,250 591.5,247.8 588,246C584.5,244.2 580.7,243 576.6,242.2C572.5,241.3 568,241 563.3,240.9Z" fill="#70cf57"/>
<path d="M555.7,247C551,246.8 546.2,247.1 542.4,247.9C538.6,248.7 535.2,250.3 533,251.7C530.8,253.1 529.7,254.4 529.2,256.5C528.7,258.6 529.8,261.6 530.1,264.1C530.4,266.6 531.2,269.2 531.1,271.7C531,274.2 530.5,276.4 529.2,279.2C527.9,282 525.6,285.8 523.5,288.7C521.4,291.6 518.5,294.6 516.8,296.5C515.1,298.4 514.4,298.2 513.2,300C512,301.8 511.2,304.8 509.7,307C508.1,309.2 506.2,311.5 503.9,313.4C501.6,315.2 497.9,316.6 495.7,318.1C493.4,319.6 491.7,320.6 490.4,322.2C489.1,323.8 488.2,325.9 488.1,328C488,330.1 488.8,332.5 489.9,335C491,337.5 492.9,340.7 494.5,343.2C496.1,345.7 497.4,348.1 499.2,350.2C500.9,352.2 502.7,354 505,355.5C507.3,357 510.3,358.1 513.2,359C516.1,359.9 519.3,360.1 522.6,360.7C525.9,361.3 529.8,361.9 533.1,362.5C536.4,363.1 539.6,363.6 542.4,364C545.2,364.4 547.5,365 550,364.8C552.5,364.6 555.6,363.9 557.6,363C559.6,362.1 560.9,360.8 561.8,359.2C562.7,357.6 563,355.7 562.9,353.5C562.8,351.3 562.3,348.3 561.4,345.9C560.5,343.5 559.5,341.1 557.6,339.2C555.7,337.3 552.2,335.7 550,334.3C547.8,332.9 545.9,332.1 544.5,331C543.1,329.9 541.9,329.1 541.8,328C541.7,326.9 542.6,325.7 544,324.5C545.4,323.3 548,322.2 550,321C552,319.8 553.2,318.8 555.7,317.2C558.2,315.6 562,313.4 565.2,311.5C568.4,309.6 571.9,307.5 574.7,305.8C577.6,304.1 579.8,303 582.3,301.1C584.8,299.2 587.8,297.1 589.9,294.4C592,291.7 593.5,288.1 594.6,284.9C595.7,281.7 596.3,278.2 596.5,275.4C596.7,272.6 596.6,270.4 595.6,267.9C594.6,265.4 593,262.7 590.8,260.3C588.6,257.9 585.6,255.4 582.3,253.6C579,251.8 575.3,250.4 570.9,249.3C566.5,248.2 560.5,247.2 555.7,247Z" fill="#cae11f"/>
</g>
<g stroke="#d4d4d4" stroke-width="1.0" stroke-opacity="0.7" fill="none"><line x1="403.6" y1="233.6" x2="403.6" y2="428.3"/><line x1="458" y1="233.6" x2="458" y2="428.3"/><line x1="512.4" y1="233.6" x2="512.4" y2="428.3"/><line x1="566.8" y1="233.6" x2="566.8" y2="428.3"/><line x1="621.2" y1="233.6" x2="621.2" y2="428.3"/><line x1="376.4" y1="428.3" x2="621.2" y2="428.3"/><line x1="376.4" y1="389.4" x2="621.2" y2="389.4"/><line x1="376.4" y1="350.4" x2="621.2" y2="350.4"/><line x1="376.4" y1="311.5" x2="621.2" y2="311.5"/><line x1="376.4" y1="272.5" x2="621.2" y2="272.5"/><line x1="376.4" y1="233.6" x2="621.2" y2="233.6"/></g>
<text class="t" x="403.6" y="437.8" text-anchor="middle">−0.8</text><text class="t" x="458" y="437.8" text-anchor="middle">−0.6</text><text class="t" x="512.4" y="437.8" text-anchor="middle">−0.4</text><text class="t" x="566.8" y="437.8" text-anchor="middle">−0.2</text><text class="t" x="621.2" y="437.8" text-anchor="middle">0.0</text><text class="t" x="374.3" y="432.1" text-anchor="end">0</text><text class="t" x="374.3" y="393.1" text-anchor="end">2</text><text class="t" x="374.3" y="354.2" text-anchor="end">4</text><text class="t" x="374.3" y="315.2" text-anchor="end">6</text><text class="t" x="374.3" y="276.3" text-anchor="end">8</text><text class="t" x="374.3" y="237.3" text-anchor="end">10</text>
<rect x="641.1" y="233.6" width="9" height="194.7" fill="none" stroke="#d2d2d2" stroke-width="1"/>
<rect x="641.1" y="389.4" width="9" height="38.9" fill="#414487"/>
<rect x="641.1" y="350.4" width="9" height="39.2" fill="#218f8d"/>
<rect x="641.1" y="311.5" width="9" height="39.2" fill="#31b57b"/>
<rect x="641.1" y="272.5" width="9" height="39.2" fill="#70cf57"/>
<rect x="641.1" y="233.6" width="9" height="39.2" fill="#cae11f"/>
<text class="t" x="653" y="431.7">0.0294</text>
<text class="t" x="653" y="392.8">0.0816</text>
<text class="t" x="653" y="353.8">0.1049</text>
<text class="t" x="653" y="314.9">0.1226</text>
<text class="t" x="653" y="275.9">0.1380</text>
<text class="t" x="653" y="237">0.1583</text>
<text x="498.8" y="451.5" text-anchor="middle" style="font-size:12.55px"><tspan class="i">α</tspan></text>
<text x="356.5" y="330.9" text-anchor="middle" transform="rotate(-90 356.5 330.9)" style="font-size:12.55px"><tspan class="i">l</tspan><tspan dy="2.6" style="font-size:70%">0</tspan></text>
<clipPath id="c6"><rect x="378.5" y="463.3" width="242.7" height="194.4"/></clipPath>
<rect x="378.5" y="463.3" width="242.7" height="194.4" fill="none" stroke="#d2d2d2" stroke-width="1"/>
<g clip-path="url(#c6)">
<path d="M376.5,584C376.9,582.8 377.9,579.5 378.8,577C379.7,574.5 380.7,571.2 382,568.8C383.3,566.3 384.9,564.3 386.5,562.3C388.1,560.3 389.2,558.5 391.5,556.8C393.8,555.1 397.4,553.3 400.5,551.9C403.6,550.5 407.3,549.7 410,548.1C412.7,546.5 414.6,544.7 416.6,542.5C418.7,540.3 420.2,537 422.3,534.9C424.4,532.8 426.2,531.3 428.9,529.7C431.6,528.1 434.9,526.8 438.4,525.4C441.9,524 446,522.9 449.8,521.6C453.6,520.3 457.4,519.2 461.2,517.8C465,516.4 468.8,514.8 472.6,513C476.4,511.2 480.5,509.1 484,507C487.5,504.9 490.4,503 493.5,500.7C496.6,498.4 499.2,495.3 502.3,493C505.4,490.7 508.6,488.6 512.1,487C515.6,485.4 519.7,484.4 523.5,483.1C527.3,481.8 531.4,480.4 534.9,479.4C538.4,478.4 541.5,477.6 544.3,477.2C547.1,476.8 549.4,476.9 551.9,477C554.4,477.1 557.4,478 559.5,477.9C561.6,477.8 562.7,477.3 564.3,476.4C565.9,475.4 567.4,473.8 569,472.2C570.6,470.6 572.4,468 573.8,466.5C575.2,465 576.2,464.5 577.6,463.1C579,461.7 581.3,458.9 582,458L582,455L630,455L630,636L629,637C627.7,638 623.9,640.9 621.2,642.7C618.5,644.5 616,646.3 612.7,648C609.4,649.7 605.1,651.4 601.3,652.7C597.5,654 593.7,654.8 589.9,655.6C586.1,656.4 583.5,656.6 578.5,657.5C573.5,658.4 563.1,660.4 560,661L560,665L370,665L370,584Z" fill="#482374"/>
<path d="M374,623C374.8,622.1 376.8,619.9 379,617.6C381.2,615.3 384.2,611.6 387.2,609.1C390.1,606.6 393.5,604.2 396.7,602.4C399.9,600.6 402.4,599.7 406.2,598.3C410,596.9 414.7,595.3 419.4,593.9C424.1,592.5 429.5,591.3 434.6,590.1C439.7,588.9 445.1,587.9 449.8,586.9C454.6,585.9 458.7,585.3 463.1,584.4C467.5,583.5 472,582.7 476.4,581.6C480.8,580.5 486.1,578.8 489.7,577.8C493.3,576.8 495.5,576.1 498,575.5C500.5,574.9 501.8,575 504.5,574C507.2,573 510.8,570.9 514,569.2C517.2,567.6 520.3,565.8 523.5,564.1C526.7,562.4 530.2,560.5 533,559.2C535.8,557.9 538.3,556.9 540.5,556.3C542.7,555.7 543.7,555.7 546.2,555.8C548.7,555.9 552.5,556.3 555.7,556.7C558.9,557.1 562,558 565.2,558C568.4,558 571.5,557.4 574.7,556.7C577.9,556 581,554.5 584.2,553.8C587.4,553.1 590.5,552.2 593.7,552.3C596.9,552.4 600.4,553.4 603.2,554.4C606.1,555.4 608.6,556.8 610.8,558.2C613,559.6 615.1,561.5 616.5,563C617.9,564.5 618.5,565.8 619.3,567.3C620.1,568.8 620.2,569.8 621.2,572.1C622.2,574.4 624.4,579.5 625,581L630,580L630,616L627,616.8C626,617.6 623.7,620.1 621.3,621.9C618.9,623.6 615.9,625.6 612.8,627.3C609.7,629 606.1,630.5 602.7,632C599.3,633.5 596.3,634.9 592.6,636.2C588.9,637.5 584.9,638.4 580.7,639.6C576.5,640.8 570.9,642.3 567.2,643.3C563.6,644.3 563,644.6 558.8,645.5C554.6,646.4 547.1,647.6 541.9,648.4C536.7,649.2 532.4,649.7 527.6,650.2C522.8,650.7 517.9,651 513,651.6C508.1,652.2 503.3,653.1 498.4,653.8C493.5,654.5 487.8,655.3 483.8,655.9C479.8,656.5 477.2,656.9 474.5,657.2C471.8,657.6 470.1,657.6 467.7,658C465.3,658.4 461.3,659.2 460,659.5L458,665L370,665L370,623Z" fill="#34618d"/>
<path d="M382.4,634.7C382.9,632.8 383.9,629.5 385.3,627.1C386.7,624.7 388.5,622.5 391,620.5C393.5,618.5 396.7,616.5 400.5,614.8C404.3,613 409.1,611.4 413.8,610C418.5,608.6 423.8,607.3 428.9,606.2C433.9,605.1 439,604.3 444.1,603.4C449.2,602.5 454.2,601.7 459.3,600.9C464.4,600.1 469.4,599.6 474.5,598.7C479.6,597.9 485.8,596.7 489.7,595.8C493.6,594.9 495.2,594.3 498,593.5C500.8,592.7 502.8,592 506.4,591.1C510,590.2 515.3,589.1 519.7,588.2C524.1,587.3 528.6,586.5 533,585.7C537.4,584.9 541.8,584.2 546.2,583.5C550.6,582.8 555.1,582.2 559.5,581.6C563.9,581 568.7,580.3 572.8,579.7C576.9,579.1 580.7,578.2 584.2,577.8C587.7,577.4 590.9,577.2 593.7,577.4C596.6,577.5 599.1,577.9 601.3,578.7C603.5,579.6 605.4,580.8 607,582.5C608.6,584.2 610.1,586.7 611.2,589.2C612.3,591.7 613.2,594.9 613.6,597.7C614,600.5 614.1,603.5 613.6,606.2C613.1,608.9 612.2,611.4 610.8,613.8C609.4,616.2 607.6,618.4 605.1,620.5C602.6,622.6 599.4,624.4 595.6,626.2C591.8,628 587,629.7 582.3,631.3C577.5,632.9 572.2,634.4 567.1,635.7C562,637 557,638.1 551.9,639.1C546.8,640.1 541.8,641 536.8,641.9C531.8,642.8 526.7,643.4 521.6,644.2C516.5,645 510.3,646 506.4,646.5C502.5,647 500.8,646.8 498,647C495.2,647.2 493.3,647.6 489.7,648C486.1,648.4 481.8,649 476.4,649.5C471,650 463.7,650.4 457.4,650.8C451.1,651.2 444.7,651.6 438.4,651.8C432.1,652 425.1,652.3 419.4,652.2C413.7,652.1 408.7,652 404.3,651.4C399.9,650.8 396.1,650.1 392.9,648.9C389.7,647.7 387.1,645.9 385.3,644.2C383.6,642.5 382.9,640.1 382.4,638.5C381.9,636.9 381.9,636.6 382.4,634.7Z" fill="#1f968b"/>
<path d="M396.3,635.7C396.3,634.3 397,632.6 398.6,630.9C400.2,629.2 402.7,627.2 406.2,625.6C409.7,624 414.7,622.3 419.4,621C424.1,619.7 429.5,618.7 434.6,617.6C439.7,616.5 444.7,615.2 449.8,614.2C454.9,613.2 459.9,612.6 465,611.6C470.1,610.6 475.4,609.5 480.2,608.5C484.9,607.5 489.9,606.6 493.5,605.9C497.1,605.1 499.2,604.7 502,604C504.8,603.3 506.3,602.3 510.2,601.5C514.1,600.7 520.4,599.7 525.4,599C530.4,598.3 535.5,597.7 540.5,597.1C545.5,596.5 550.6,596.1 555.7,595.6C560.8,595.1 566.5,594.5 570.9,594.3C575.3,594.1 579.1,594 582.3,594.3C585.5,594.5 587.8,595 589.9,595.8C592,596.6 593.3,597.6 594.6,599C595.9,600.4 597.2,602.3 597.5,604.3C597.8,606.3 597.5,608.9 596.5,611C595.5,613.1 593.8,615 591.8,616.7C589.8,618.4 587.4,619.8 584.2,621.4C581,623 576.9,624.8 572.8,626.2C568.7,627.6 564.2,628.8 559.5,630C554.8,631.2 549.3,632.2 544.3,633.2C539.2,634.2 534.2,634.9 529.2,635.7C524.2,636.5 519.2,637.4 514,638.1C508.8,638.8 501.7,639.5 498,640C494.3,640.5 495.2,640.9 491.6,641.4C488,641.9 482.1,642.4 476.4,642.9C470.7,643.4 463.7,643.9 457.4,644.2C451.1,644.5 444.7,644.6 438.4,644.6C432.1,644.6 424.8,644.6 419.4,644.2C414,643.8 409.7,643.1 406.2,642.3C402.7,641.5 400.2,640.6 398.6,639.5C397,638.4 396.3,637.1 396.3,635.7Z" fill="#50c46a"/>
<path d="M425.7,632.4C426,631.3 428.4,629.4 430.8,628.1C433.2,626.8 436.5,625.9 440.3,624.8C444.1,623.7 448.9,622.4 453.6,621.4C458.4,620.4 463.7,619.5 468.8,618.6C473.9,617.7 479.6,616.6 484,615.7C488.4,614.8 492.4,613.6 495.4,613C498.4,612.4 499.5,612.5 502,611.9C504.5,611.3 506.3,610.2 510.2,609.5C514.1,608.8 520.4,608.2 525.4,607.8C530.4,607.3 535.8,606.9 540.5,606.8C545.2,606.7 550,607 553.8,607.2C557.6,607.4 560.8,607.6 563.3,608.1C565.8,608.6 567.6,609.2 569,610C570.4,610.8 571.2,611.8 571.5,612.9C571.8,614 571.4,615.4 570.5,616.7C569.6,618 568.4,619.3 566.2,620.5C564.1,621.7 561.2,622.7 557.6,623.9C554,625.1 549,626.4 544.3,627.5C539.6,628.6 534.2,629.6 529.2,630.5C524.2,631.4 518.8,632 514,632.8C509.2,633.6 505.4,634.4 500.7,635.1C496,635.8 490.9,636.6 485.9,637C480.9,637.4 476.1,637.5 470.7,637.6C465.3,637.7 459,637.8 453.6,637.6C448.2,637.4 442.5,637.1 438.4,636.6C434.3,636.1 431,635.4 428.9,634.7C426.8,634 425.4,633.5 425.7,632.4Z" fill="#c2df23"/>
</g>
<g stroke="#d4d4d4" stroke-width="1.0" stroke-opacity="0.7" fill="none"><line x1="405.5" y1="463.3" x2="405.5" y2="657.7"/><line x1="459.4" y1="463.3" x2="459.4" y2="657.7"/><line x1="513.3" y1="463.3" x2="513.3" y2="657.7"/><line x1="567.3" y1="463.3" x2="567.3" y2="657.7"/><line x1="621.2" y1="463.3" x2="621.2" y2="657.7"/><line x1="378.5" y1="657.7" x2="621.2" y2="657.7"/><line x1="378.5" y1="633.4" x2="621.2" y2="633.4"/><line x1="378.5" y1="609.1" x2="621.2" y2="609.1"/><line x1="378.5" y1="584.8" x2="621.2" y2="584.8"/><line x1="378.5" y1="560.5" x2="621.2" y2="560.5"/><line x1="378.5" y1="536.2" x2="621.2" y2="536.2"/><line x1="378.5" y1="511.9" x2="621.2" y2="511.9"/><line x1="378.5" y1="487.6" x2="621.2" y2="487.6"/><line x1="378.5" y1="463.3" x2="621.2" y2="463.3"/></g>
<text class="t" x="405.5" y="667.2" text-anchor="middle">−0.8</text><text class="t" x="459.4" y="667.2" text-anchor="middle">−0.6</text><text class="t" x="513.3" y="667.2" text-anchor="middle">−0.4</text><text class="t" x="567.3" y="667.2" text-anchor="middle">−0.2</text><text class="t" x="621.2" y="667.2" text-anchor="middle">0.0</text><text class="t" x="376.4" y="661.5" text-anchor="end">0.0</text><text class="t" x="376.4" y="637.2" text-anchor="end">0.5</text><text class="t" x="376.4" y="612.9" text-anchor="end">1.0</text><text class="t" x="376.4" y="588.6" text-anchor="end">1.5</text><text class="t" x="376.4" y="564.2" text-anchor="end">2.0</text><text class="t" x="376.4" y="540" text-anchor="end">2.5</text><text class="t" x="376.4" y="515.7" text-anchor="end">3.0</text><text class="t" x="376.4" y="491.4" text-anchor="end">3.5</text><text class="t" x="376.4" y="467.1" text-anchor="end">4.0</text>
<rect x="641.1" y="463.3" width="9" height="194.4" fill="none" stroke="#d2d2d2" stroke-width="1"/>
<rect x="641.1" y="618.8" width="9" height="38.9" fill="#482374"/>
<rect x="641.1" y="579.9" width="9" height="39.2" fill="#34618d"/>
<rect x="641.1" y="541.1" width="9" height="39.2" fill="#1f968b"/>
<rect x="641.1" y="502.2" width="9" height="39.2" fill="#50c46a"/>
<rect x="641.1" y="463.3" width="9" height="39.2" fill="#c2df23"/>
<text class="t" x="653" y="661.1">0.0331</text>
<text class="t" x="653" y="622.2">0.2205</text>
<text class="t" x="653" y="583.3">0.4430</text>
<text class="t" x="653" y="544.5">0.6466</text>
<text class="t" x="653" y="505.6">0.8292</text>
<text class="t" x="653" y="466.7">1.0078</text>
<text x="499.9" y="680" text-anchor="middle" style="font-size:12.55px"><tspan class="i">α</tspan></text>
<text x="356.5" y="560.5" text-anchor="middle" transform="rotate(-90 356.5 560.5)" style="font-size:12.55px"><tspan class="i">σ</tspan></text>
</svg></body></html>
